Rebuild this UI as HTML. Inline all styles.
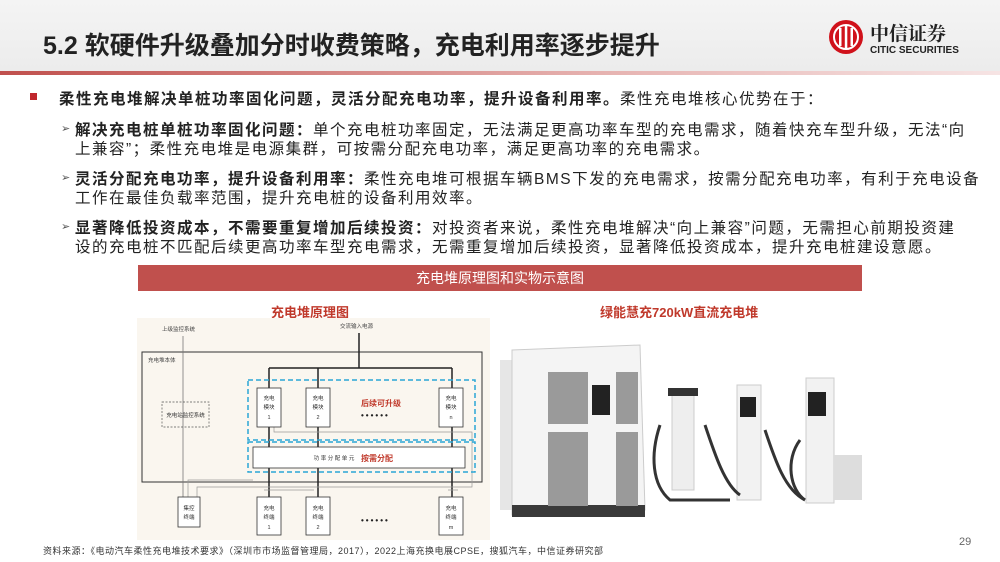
<!DOCTYPE html>
<html><head><meta charset="utf-8"><style>
body{margin:0;width:1000px;height:562px;overflow:hidden;background:#fff;position:relative;font-family:"Liberation Sans","Noto Sans CJK SC",sans-serif;color:#222}
.hdr{position:absolute;left:0;top:0;width:1000px;height:71px;background:linear-gradient(#f4f4f4,#ececec)}
.rl{position:absolute;left:0;top:71px;width:1000px;height:4px;background:linear-gradient(90deg,#c0504d,#e6b2b0 60%,#f6e4e4)}
.title{position:absolute;left:43px;top:26px;font-size:25px;font-weight:bold;color:#222;white-space:nowrap}
.t{position:absolute;font-size:15.5px;letter-spacing:1.5px;white-space:nowrap;color:#222}
.b{font-weight:bold}
.arr{position:absolute;left:61px;font-size:11px;color:#555}
.bar{position:absolute;left:138px;top:265px;width:724px;height:26px;background:#c0504d;color:#fff;font-size:14px;text-align:center;line-height:26px}
.sub{position:absolute;font-size:13px;font-weight:bold;color:#c0392b;white-space:nowrap}
</style></head><body>
<div class="hdr"></div><div class="rl"></div>
<div class="title">5.2 软硬件升级叠加分时收费策略，充电利用率逐步提升</div>
<svg style="position:absolute;left:828px;top:17px" width="145" height="42">
<circle cx="18" cy="20" r="17" fill="#d0121b"/>
<circle cx="18" cy="20" r="12" fill="none" stroke="#fff" stroke-width="2"/>
<rect x="11" y="11" width="2.5" height="18" fill="#fff"/><rect x="16.8" y="9" width="2.5" height="22" fill="#fff"/><rect x="22.5" y="11" width="2.5" height="18" fill="#fff"/>
<text x="42" y="23" font-size="19" font-weight="bold" fill="#222" font-family="Noto Serif CJK SC,serif">中信证券</text>
<text x="42" y="36" font-size="10" font-weight="bold" fill="#222" font-family="Liberation Sans,sans-serif">CITIC SECURITIES</text>
</svg>
<div style="position:absolute;left:30px;top:93px;width:7px;height:7px;background:#c0272d"></div>
<div class="t" style="left:59px;top:87px"><span class="b">柔性充电堆解决单桩功率固化问题，灵活分配充电功率，提升设备利用率。</span>柔性充电堆核心优势在于：</div>
<div class="arr" style="top:122px">➢</div>
<div class="t" style="left:75px;top:118px"><span class="b">解决充电桩单桩功率固化问题：</span>单个充电桩功率固定，无法满足更高功率车型的充电需求，随着快充车型升级，无法“向</div>
<div class="t" style="left:75px;top:137px">上兼容”；柔性充电堆是电源集群，可按需分配充电功率，满足更高功率的充电需求。</div>
<div class="arr" style="top:171px">➢</div>
<div class="t" style="left:75px;top:167px"><span class="b">灵活分配充电功率，提升设备利用率：</span>柔性充电堆可根据车辆BMS下发的充电需求，按需分配充电功率，有利于充电设备</div>
<div class="t" style="left:75px;top:186px">工作在最佳负载率范围，提升充电桩的设备利用效率。</div>
<div class="arr" style="top:220px">➢</div>
<div class="t" style="left:75px;top:216px"><span class="b">显著降低投资成本，不需要重复增加后续投资：</span>对投资者来说，柔性充电堆解决“向上兼容”问题，无需担心前期投资建</div>
<div class="t" style="left:75px;top:235px">设的充电桩不匹配后续更高功率车型充电需求，无需重复增加后续投资，显著降低投资成本，提升充电桩建设意愿。</div>
<div class="bar">充电堆原理图和实物示意图</div>
<div class="sub" style="left:271px;top:302px">充电堆原理图</div>
<div class="sub" style="left:600px;top:302px">绿能慧充720kW直流充电堆</div>
<svg style="position:absolute;left:0;top:0" width="1000" height="562" font-family="Liberation Sans,Noto Sans CJK SC,sans-serif">
<rect x="137" y="318" width="353" height="222" fill="#faf6ef"/>
<text x="162" y="331" font-size="5.5" fill="#444">上级监控系统</text>
<text x="340" y="328" font-size="5.5" fill="#444">交流输入电源</text>
<rect x="142" y="352" width="340" height="130" fill="none" stroke="#333" stroke-width="1"/>
<text x="148" y="362" font-size="5.5" fill="#444">充电堆本体</text>
<line x1="183" y1="336" x2="183" y2="497" stroke="#777" stroke-width="0.8"/>
<line x1="359" y1="333" x2="359" y2="368" stroke="#222" stroke-width="1.5"/>
<line x1="269" y1="368" x2="452" y2="368" stroke="#222" stroke-width="1.5"/>
<g stroke="#222" stroke-width="1.5"><line x1="269" y1="368" x2="269" y2="388"/><line x1="318" y1="368" x2="318" y2="388"/><line x1="452" y1="368" x2="452" y2="388"/>
<line x1="269" y1="427" x2="269" y2="447"/><line x1="318" y1="427" x2="318" y2="447"/><line x1="452" y1="427" x2="452" y2="447"/>
<line x1="269" y1="468" x2="269" y2="497"/><line x1="318" y1="468" x2="318" y2="497"/><line x1="452" y1="468" x2="452" y2="497"/></g>
<g stroke="#999" stroke-width="0.7" fill="none"><path d="M274 427v5h198v55h-275v10"/><path d="M188 497v-17h65"/><path d="M264 490h50M448 490h10"/></g>
<rect x="248" y="380" width="227" height="60" fill="none" stroke="#2aa6d6" stroke-width="1.5" stroke-dasharray="5,3"/>
<rect x="248" y="442" width="227" height="30" fill="none" stroke="#2aa6d6" stroke-width="1.5" stroke-dasharray="5,3"/>
<g fill="#fff" stroke="#333" stroke-width="0.8">
<rect x="257" y="388" width="24" height="39"/><rect x="306" y="388" width="24" height="39"/><rect x="439" y="388" width="24" height="39"/>
<rect x="253" y="447" width="212" height="21"/>
<rect x="178" y="497" width="22" height="30"/><rect x="257" y="497" width="24" height="38"/><rect x="306" y="497" width="24" height="38"/><rect x="439" y="497" width="24" height="38"/></g>
<rect x="162" y="402" width="47" height="25" fill="none" stroke="#555" stroke-width="0.7" stroke-dasharray="2,1.5"/>
<text x="185.5" y="417" font-size="5.5" fill="#333" text-anchor="middle">充电站监控系统</text>
<g font-size="5.5" fill="#333" text-anchor="middle">
<text x="269" y="400">充电</text><text x="269" y="409">模块</text><text x="269" y="419">1</text>
<text x="318" y="400">充电</text><text x="318" y="409">模块</text><text x="318" y="419">2</text>
<text x="451" y="400">充电</text><text x="451" y="409">模块</text><text x="451" y="419">n</text>
<text x="189" y="510">集控</text><text x="189" y="519">终端</text>
<text x="269" y="510">充电</text><text x="269" y="519">终端</text><text x="269" y="529">1</text>
<text x="318" y="510">充电</text><text x="318" y="519">终端</text><text x="318" y="529">2</text>
<text x="451" y="510">充电</text><text x="451" y="519">终端</text><text x="451" y="529">m</text>
<text x="334" y="460">功 率 分 配 单 元</text></g>
<text x="361" y="406" font-size="8" font-weight="bold" fill="#c0392b">后续可升级</text>
<text x="361" y="461" font-size="8" font-weight="bold" fill="#c0392b">按需分配</text>
<text x="361" y="418" font-size="8" font-weight="bold" fill="#222" letter-spacing="2">••••••</text>
<text x="361" y="523" font-size="8" font-weight="bold" fill="#222" letter-spacing="2">••••••</text>
<rect x="500" y="360" width="22" height="150" fill="#e6e6e6"/>
<polygon points="512,350 640,345 645,510 512,515" fill="#f4f4f4" stroke="#ccc"/>
<rect x="512" y="505" width="133" height="12" fill="#3a3a3a"/>
<rect x="548" y="372" width="40" height="52" fill="#9a9a9a"/><rect x="548" y="432" width="40" height="74" fill="#9a9a9a"/>
<rect x="616" y="372" width="22" height="52" fill="#9a9a9a"/><rect x="616" y="432" width="22" height="74" fill="#9a9a9a"/>
<rect x="592" y="385" width="18" height="30" fill="#222"/>
<rect x="672" y="390" width="22" height="100" fill="#eee" stroke="#ccc"/><rect x="668" y="388" width="30" height="8" fill="#333"/>
<rect x="737" y="385" width="24" height="115" fill="#f2f2f2" stroke="#ccc"/><rect x="740" y="397" width="16" height="20" fill="#222"/>
<rect x="806" y="378" width="28" height="125" fill="#f2f2f2" stroke="#ccc"/><rect x="808" y="392" width="18" height="24" fill="#222"/>
<rect x="834" y="455" width="28" height="45" fill="#ddd"/>
<g stroke="#333" stroke-width="3" fill="none"><path d="M660 425c-10 30-8 60 10 75h60"/><path d="M705 425c10 30 20 60 35 70"/><path d="M765 430c10 30 20 60 40 70"/><path d="M800 440c-15 20-10 50 5 60"/></g>
<text x="43" y="554" font-size="9" letter-spacing="0.5" fill="#333">资料来源：《电动汽车柔性充电堆技术要求》（深圳市市场监督管理局，2017），2022上海充换电展CPSE，搜狐汽车，中信证券研究部</text>
<text x="959" y="545" font-size="11" fill="#666">29</text>
</svg>
</body></html>
